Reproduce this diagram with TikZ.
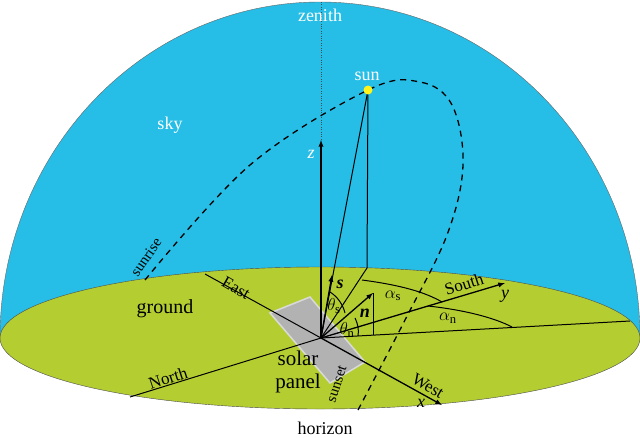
\documentclass[tikz,border=0pt]{standalone}
\usepackage{fontspec}
\setmainfont{Liberation Serif}
\begin{document}
\begin{tikzpicture}[x=1pt,y=-1pt,
  lbl/.style={font=\fontsize{18}{19}\selectfont,inner sep=1pt},
  wl/.style={lbl,text=white},
  rl/.style={lbl,font=\fontsize{17}{18}\selectfont},
  ax/.style={line width=1.3pt,-latex},
  ln/.style={line width=1pt}]
\definecolor{sky}{RGB}{38,190,230}
\definecolor{grnd}{RGB}{180,206,50}
\useasboundingbox (0,0) rectangle (640,437);
% sky dome
\fill[sky,draw=black!60,thin] (0,338) arc[start angle=180,end angle=0,x radius=320,y radius=-336];
% ground
\filldraw[fill=grnd,draw=black!70,thin] (320,338) ellipse [x radius=320,y radius=71];
\coordinate (O) at (321,338);
% zenith dotted
\draw[dotted,black!70] (321,2) -- (321,140);
% panel
\filldraw[fill=black!30,draw=white!85!black,line width=1.5pt] (270,313) -- (310,297) -- (365,362) -- (330,383) -- cycle;
% ground lines
\coordinate (E) at (205,274);
\coordinate (N) at (130,397);
\coordinate (X) at (442,405);
\coordinate (Y) at (505,283);
\coordinate (P) at (630,321);
\draw[ln] (E) -- (O);
\draw[ln] (N) -- (O);
\draw[ax] (O) -- (X);
\draw[ax] (O) -- (Y);
\draw[ln] (O) -- (P);
% z axis
\draw[ax] (O) -- (321,140) coordinate (Z);
% sun
\coordinate (S) at (368,90);
\coordinate (SP) at (367,268);
\draw[ln] (O) -- (S);
\draw[ln] (S) -- (SP) -- (O);
\draw[ax] (O) -- (332,275) coordinate (s);
\draw[ax] (O) -- (373,293) coordinate (n);
\draw[ln] (n) -- (373,335);
% arcs
\draw[ln] (362,280) .. controls (400,285) and (425,292) .. (442,302);
\draw[ln] (428,306) .. controls (465,310) and (495,318) .. (512,327);
\draw[ln] (330,292) .. controls (338,297) and (343,305) .. (345,313);
\draw[ln] (355,318) .. controls (358,324) and (359,330) .. (358,336);
% sun path
\draw[dash pattern=on 6pt off 5pt,line width=1.3pt] plot[smooth,tension=0.6] coordinates {(145,280) (250,165) (368,90) (420,82) (452,105) (463,165) (447,235) (405,320) (358,410)};
\fill[yellow!90!white] (S) circle (4.5);
% labels
\node[wl] at (320,15) {zenith};
\node[wl] at (170,125) {sky};
\node[wl] at (367,76) {sun};
\node[wl] at (311,154) {\itshape z};
\node[lbl,font=\fontsize{20}{21}\selectfont] at (165,309) {ground};
\node[lbl,align=center,font=\fontsize{21}{23}\selectfont] at (298,372) {solar\\panel};
\node[lbl] at (325,428) {horizon};
\node[rl,rotate=-30] at (236,288) {East};
\node[rl,rotate=18] at (168,378) {North};
\node[rl,rotate=18] at (464,284) {South};
\node[rl,rotate=-30] at (428,386) {West};
\node[rl,rotate=72,font=\fontsize{15}{16}\selectfont] at (337,384) {sunset};
\node[rl,rotate=55,font=\fontsize{15}{16}\selectfont] at (146,257) {sunrise};
\node[lbl] at (505,296) {\itshape y};
\node[lbl] at (421,403) {\itshape x};
\node[lbl] at (340,284) {\bfseries\itshape s};
\node[lbl] at (365,313) {\bfseries\itshape n};
\node[lbl] at (393,296) {$\alpha_{\mathrm{s}}$};
\node[lbl] at (448,318) {$\alpha_{\mathrm{n}}$};
\node[lbl] at (334,306) {$\theta_{\mathrm{s}}$};
\node[lbl] at (347,330) {$\theta_{\mathrm{n}}$};
\end{tikzpicture}
\end{document}
